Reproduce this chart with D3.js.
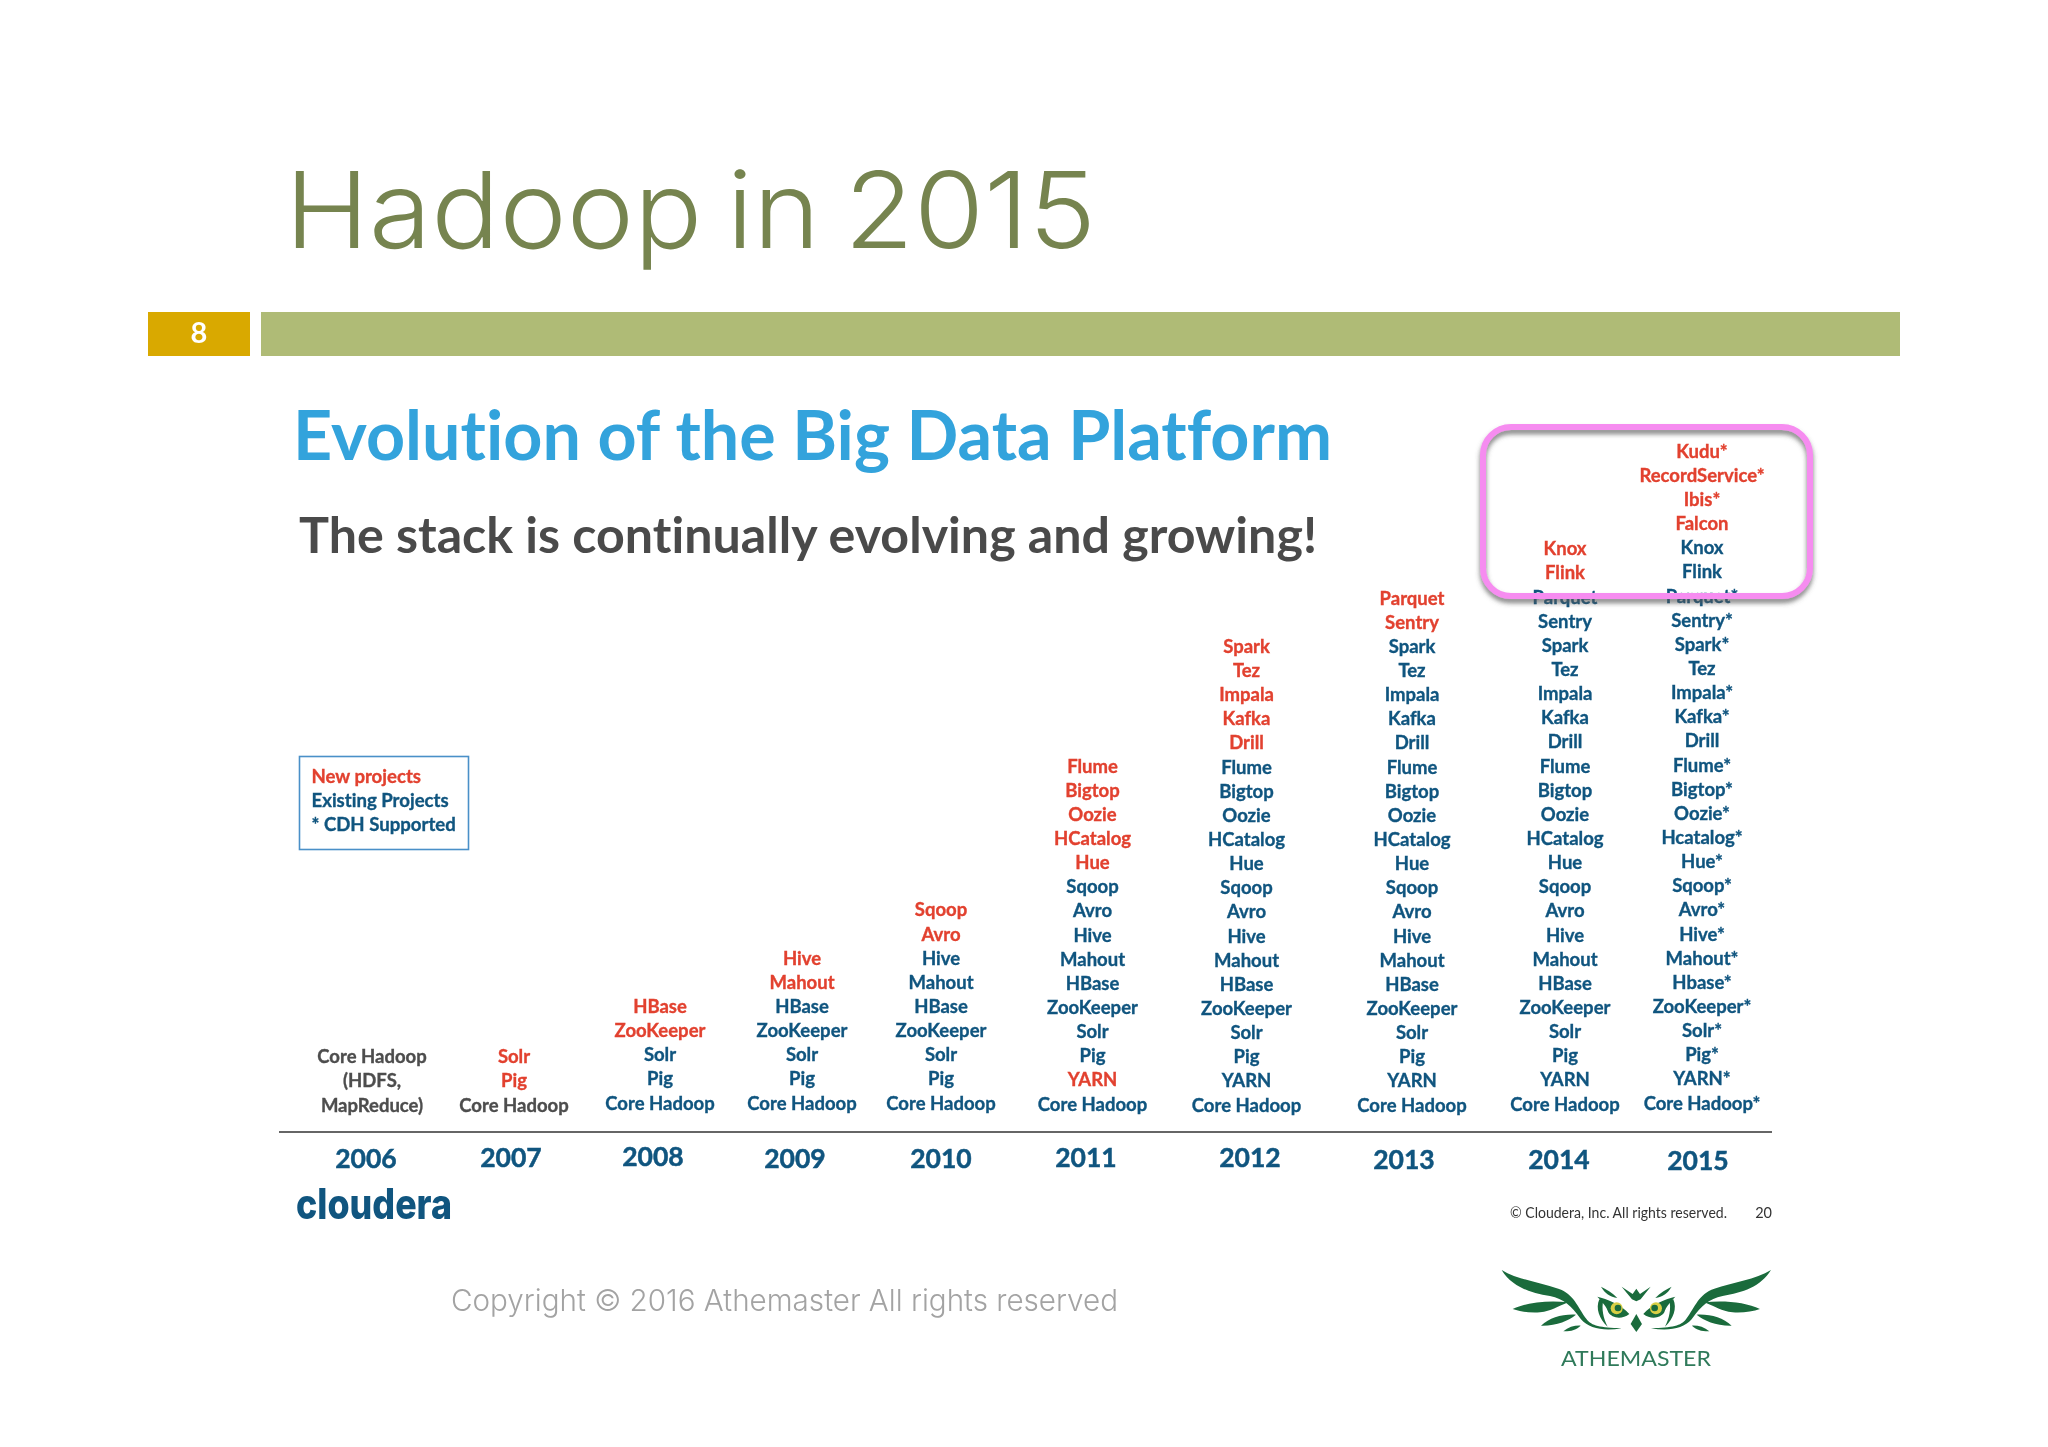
<!DOCTYPE html>
<html>
<head>
<meta charset="utf-8">
<script src="https://cdn.jsdelivr.net/npm/d3@7"></script>
<style>
  html, body { margin: 0; padding: 0; background: #fff; }
  svg { filter: blur(0.45px); }
  text { font-family: Lato, sans-serif; font-variant-ligatures: none; }
</style>
</head>
<body>
<svg id="chart" width="2048" height="1447"></svg>
<script>
/* chart data */

const years = ["2006", "2007", "2008", "2009", "2010", "2011", "2012", "2013", "2014", "2015"];

// every stack is listed top to bottom, as it reads on the slide
const stack2006 = ["Core Hadoop", "(HDFS,", "MapReduce)"];
const stack2007 = ["Solr", "Pig", "Core Hadoop"];
const stack2008 = ["HBase", "ZooKeeper", "Solr", "Pig", "Core Hadoop"];
const stack2009 = ["Hive", "Mahout", "HBase", "ZooKeeper", "Solr", "Pig", "Core Hadoop"];
const stack2010 = ["Sqoop", "Avro", "Hive", "Mahout", "HBase", "ZooKeeper", "Solr", "Pig", "Core Hadoop"];
const stack2011 = ["Flume", "Bigtop", "Oozie", "HCatalog", "Hue", "Sqoop", "Avro", "Hive", "Mahout", "HBase",
  "ZooKeeper", "Solr", "Pig", "YARN", "Core Hadoop"];
const stack2012 = ["Spark", "Tez", "Impala", "Kafka", "Drill", "Flume", "Bigtop", "Oozie", "HCatalog", "Hue",
  "Sqoop", "Avro", "Hive", "Mahout", "HBase", "ZooKeeper", "Solr", "Pig", "YARN", "Core Hadoop"];
const stack2013 = ["Parquet", "Sentry", "Spark", "Tez", "Impala", "Kafka", "Drill", "Flume", "Bigtop", "Oozie",
  "HCatalog", "Hue", "Sqoop", "Avro", "Hive", "Mahout", "HBase", "ZooKeeper", "Solr", "Pig", "YARN", "Core Hadoop"];
const stack2014 = ["Knox", "Flink", "Parquet", "Sentry", "Spark", "Tez", "Impala", "Kafka", "Drill", "Flume",
  "Bigtop", "Oozie", "HCatalog", "Hue", "Sqoop", "Avro", "Hive", "Mahout", "HBase", "ZooKeeper", "Solr", "Pig",
  "YARN", "Core Hadoop"];
const stack2015 = ["Kudu*", "RecordService*", "Ibis*", "Falcon", "Knox", "Flink", "Parquet*", "Sentry*", "Spark*",
  "Tez", "Impala*", "Kafka*", "Drill", "Flume*", "Bigtop*", "Oozie*", "Hcatalog*", "Hue*", "Sqoop*", "Avro*", "Hive*",
  "Mahout*", "Hbase*", "ZooKeeper*", "Solr*", "Pig*", "YARN*", "Core Hadoop*"];
const stacks = [stack2006, stack2007, stack2008, stack2009, stack2010, stack2011, stack2012, stack2013, stack2014, stack2015];

// projects new in each year (drawn red)
const newProjects = [
  [],
  ["Solr", "Pig"],
  ["HBase", "ZooKeeper"],
  ["Hive", "Mahout"],
  ["Sqoop", "Avro"],
  ["Flume", "Bigtop", "Oozie", "HCatalog", "Hue", "YARN"],
  ["Spark", "Tez", "Impala", "Kafka", "Drill"],
  ["Parquet", "Sentry"],
  ["Knox", "Flink"],
  ["Kudu*", "RecordService*", "Ibis*", "Falcon"]
];
// the first slide columns are still in the grey of the original
const plainProjects = [
  ["Core Hadoop", "(HDFS,", "MapReduce)"],
  ["Core Hadoop"],
  [], [], [], [], [], [], [], []
];

const legendLabels = ["New projects", "Existing Projects", "* CDH Supported"];

/* colours */

const RED = "#e2412f";
const BLUE = "#10557f";
const GREY = "#4d4d4d";

/* layout of the slide, the columns are not evenly spaced in the original */

const svg = d3.select("#chart");

const stackX = d3.scaleOrdinal().domain(years)
  .range([372, 514, 660, 802, 941, 1092.5, 1246.5, 1412, 1565, 1702]);
const yearX = d3.scaleOrdinal().domain(years)
  .range([366, 511, 653, 795, 941, 1086, 1250, 1404, 1559, 1698]);
const stackBase = d3.scaleOrdinal().domain(years)
  .range([1111.5, 1111.5, 1109.5, 1109.5, 1109.5, 1110.5, 1111.5, 1111.5, 1110.5, 1109.5]);
const yearBase = d3.scaleOrdinal().domain(years)
  .range([1168, 1167, 1166, 1168, 1168, 1167, 1167, 1169, 1169, 1170]);

// rows counted up from the axis
const rowY = d3.scaleLinear().domain([0, 27]).range([0, -27 * 24.14]);

function addText(str, x, y, size, weight, fill, anchor, len) {
  const t = svg.append("text")
    .text(str)
    .attr("x", x)
    .attr("y", y)
    .attr("font-size", size)
    .attr("font-weight", weight)
    .attr("fill", fill)
    .attr("text-anchor", anchor || "start");
  if (len) t.attr("textLength", len).attr("lengthAdjust", "spacingAndGlyphs");
  return t;
}

/* slide header */

addText("Hadoop in 2015", 285, 248, 106, 300, "#76844f", "start", 811)
  .style("font-family", "Inter")
  .style("word-spacing", "-7px");
svg.append("rect").attr("x", 148).attr("y", 312).attr("width", 102).attr("height", 44).attr("fill", "#d9a900");
svg.append("rect").attr("x", 261).attr("y", 312).attr("width", 1639).attr("height", 44).attr("fill", "#afbb76");
addText("8", 199, 343, 29, 700, "#fff", "middle");

/* inner slide titles */

addText("Evolution of the Big Data Platform", 293, 460, 68, 700, "#33a3dc", "start", 1039);
addText("The stack is continually evolving and growing!", 299, 553, 50, 700, "#4a4a4a", "start", 1018);

/* legend */

svg.append("rect")
  .attr("x", 299.5).attr("y", 756.5).attr("width", 169).attr("height", 93)
  .attr("fill", "none").attr("stroke", "#4a90c8").attr("stroke-width", 1.6);
svg.append("g").selectAll("text")
  .data(legendLabels)
  .enter().append("text")
  .text(d => d)
  .attr("x", 311.5)
  .attr("y", (d, i) => 782.5 + i * 24)
  .attr("font-size", 18.6)
  .attr("font-weight", 700)
  .attr("fill", (d, i) => i === 0 ? RED : BLUE)
  .attr("stroke", (d, i) => i === 0 ? RED : BLUE)
  .attr("stroke-width", 0.35);

/* the stacks of projects */

const columns = svg.append("g").attr("class", "stacks")
  .selectAll("g")
  .data(years)
  .enter().append("g")
  .attr("transform", d => "translate(" + stackX(d) + "," + stackBase(d) + ")");

const colorOf = d => d.isNew ? RED : d.isPlain ? GREY : BLUE;

columns.selectAll("text")
  .data((d, i) => stacks[i].map((name, j) => ({
    name: name,
    row: stacks[i].length - 1 - j,
    isNew: newProjects[i].includes(name),
    isPlain: plainProjects[i].includes(name)
  })))
  .enter().append("text")
  .text(d => d.name)
  .attr("y", d => rowY(d.row))
  .attr("text-anchor", "middle")
  .attr("font-size", 18.5)
  .attr("font-weight", 700)
  .attr("fill", colorOf)
  .attr("stroke", colorOf)
  .attr("stroke-width", 0.35);

/* axis with the years */

svg.append("line")
  .attr("x1", 279).attr("x2", 1772).attr("y1", 1132).attr("y2", 1132)
  .attr("stroke", "#666").attr("stroke-width", 1.8);

svg.append("g").selectAll("text")
  .data(years)
  .enter().append("text")
  .text(d => d)
  .attr("x", d => yearX(d))
  .attr("y", d => yearBase(d))
  .attr("text-anchor", "middle")
  .attr("font-size", 26.5)
  .attr("font-weight", 700)
  .attr("fill", BLUE)
  .attr("stroke", BLUE)
  .attr("stroke-width", 0.5);

/* pink highlight goes over the Parquet row */

const defs = svg.append("defs");
const shadow = defs.append("filter").attr("id", "box-shadow")
  .attr("x", "-5%").attr("y", "-10%").attr("width", "110%").attr("height", "125%");
shadow.append("feDropShadow")
  .attr("dx", 0).attr("dy", 4).attr("stdDeviation", 2.5)
  .attr("flood-color", "#555").attr("flood-opacity", 0.75);

svg.append("rect")
  .attr("x", 1483).attr("y", 427).attr("width", 327).attr("height", 169).attr("rx", 28)
  .attr("fill", "none").attr("stroke", "#f68cf0").attr("stroke-width", 6)
  .attr("filter", "url(#box-shadow)");

/* footers */

addText("cloudera", 296, 1219, 42, 800, "#10557f", "start", 156)
  .style("font-family", "Inter");
addText("\u00a9 Cloudera, Inc. All rights reserved.", 1510, 1218, 14.5, 400, "#333", "start", 217);
addText("20", 1772, 1218, 14.5, 400, "#333", "end");
addText("Copyright \u00a9 2016 Athemaster All rights reserved", 451, 1311, 30, 300, "#a3a3a3", "start", 667)
  .style("font-family", "Inter");

/* athemaster logo, drawn in the 3x space of the crop I traced it from */

const GREEN = "#1a6b3c";
const logo = svg.append("g").attr("transform", "translate(1440,1240) scale(0.3333)");
const wing = logo.append("g").attr("id", "wing");
const wingPaths = [
  "M185,90 C230,118 300,128 355,146 C402,162 412,200 440,238 C455,258 480,263 545,265 C490,274 448,266 423,238 C392,195 372,178 330,168 C270,158 215,140 185,90 Z",
  "M218,207 C260,186 330,180 385,187 C350,200 335,214 300,217 C270,219 240,215 218,207 Z",
  "M303,257 C330,233 365,222 408,224 C385,242 350,258 303,257 Z",
  "M370,274 C385,261 405,256 422,257 C410,269 390,275 370,274 Z",
  "M478,178 C466,205 478,238 503,260 C490,235 484,205 490,182 Z",
  "M472,170 C500,176 545,195 568,222 C545,240 515,234 505,217 C500,200 490,190 472,170 Z",
  "M483,140 C500,148 518,158 532,174 C510,170 495,160 483,140 Z"
];
wing.selectAll("path").data(wingPaths).enter().append("path").attr("d", d => d).attr("fill", GREEN);
wing.append("circle").attr("cx", 530).attr("cy", 205).attr("r", 18).attr("fill", "#d9cf45");
wing.append("circle").attr("cx", 534).attr("cy", 204).attr("r", 10).attr("fill", GREEN);
logo.append("g").attr("transform", "translate(1178,0) scale(-1,1)").html(wing.html());
logo.append("path")
  .attr("d", "M545,140 L578,162 L589,146 L600,162 L632,140 L602,178 L589,184 L576,178 Z")
  .attr("fill", GREEN);
logo.append("path")
  .attr("d", "M589,222 L606,252 L589,276 L572,252 Z")
  .attr("fill", GREEN);
addText("ATHEMASTER", 1561, 1366, 22, 400, "#2f7a5a", "start", 150);
</script>
</body>
</html>
